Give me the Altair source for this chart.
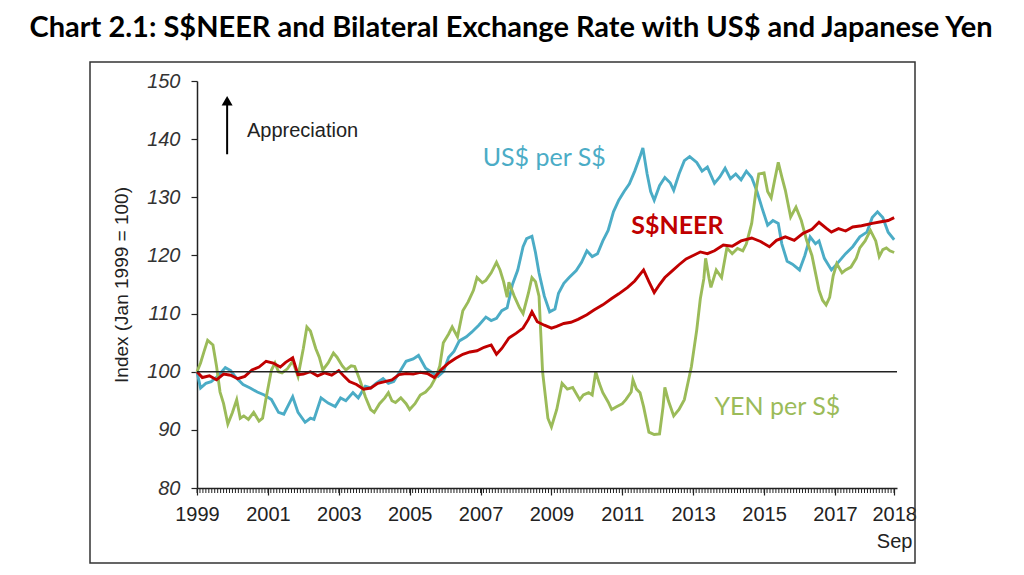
import altair as alt
import pandas as pd

# ---------------- data ----------------
neer_t = [1999.0,1999.15,1999.35,1999.55,1999.75,1999.95,2000.15,2000.35,2000.55,2000.75,2000.95,2001.15,2001.35,2001.5,2001.7,2001.85,
          2002.0,2002.2,2002.4,2002.6,2002.8,2003.0,2003.15,2003.3,2003.5,2003.7,2003.9,2004.1,2004.3,2004.5,2004.7,2004.9,2005.1,2005.3,
          2005.5,2005.7,2005.9,2006.1,2006.3,2006.5,2006.7,2006.9,2007.1,2007.3,2007.45,2007.6,2007.8,2008.0,2008.2,2008.35,2008.45,
          2008.6,2008.8,2009.0,2009.15,2009.35,2009.55,2009.75,2010.0,2010.2,2010.45,2010.7,2010.9,2011.15,2011.35,2011.6,2011.75,
          2011.9,2012.05,2012.2,2012.4,2012.6,2012.8,2013.0,2013.2,2013.4,2013.6,2013.85,2014.1,2014.35,2014.65,2014.9,2015.15,
          2015.35,2015.6,2015.85,2016.1,2016.35,2016.55,2016.75,2016.9,2017.1,2017.3,2017.5,2017.75,2018.05,2018.3,2018.5,2018.67]
neer_v = [100,99.0,99.3,98.6,99.6,99.4,98.8,99.2,100.3,100.8,101.8,101.5,100.8,101.6,102.4,99.5,
          99.6,100.0,99.3,99.8,99.4,100.2,99.2,98.3,97.8,97.0,97.2,98.0,98.3,98.6,99.5,99.7,99.6,99.9,
          99.7,99.0,100.4,101.5,102.3,103.0,103.4,103.6,104.2,104.6,103.0,104.0,105.8,106.6,107.5,109.0,110.3,
          108.6,108.0,107.5,107.8,108.3,108.5,109.0,109.8,110.6,111.5,112.6,113.4,114.5,115.6,117.5,115.5,
          113.6,115.0,116.2,117.3,118.4,119.4,120.0,120.6,120.3,120.8,121.8,121.6,122.5,123.0,122.4,121.5,
          122.6,123.2,122.6,123.8,124.5,125.7,124.7,124.0,124.6,124.2,124.9,125.1,125.5,125.8,126.0,126.5]

usd_t = [1999.0,1999.1,1999.25,1999.4,1999.6,1999.8,1999.95,2000.1,2000.3,2000.5,2000.7,2000.9,2001.1,2001.3,2001.45,2001.6,2001.7,
         2001.85,2002.05,2002.2,2002.3,2002.5,2002.7,2002.9,2003.05,2003.2,2003.4,2003.55,2003.75,2003.9,2004.05,2004.25,2004.4,
         2004.55,2004.75,2004.9,2005.1,2005.25,2005.45,2005.6,2005.8,2005.95,2006.1,2006.25,2006.4,2006.6,2006.75,2006.95,2007.15,
         2007.3,2007.45,2007.6,2007.75,2007.9,2008.05,2008.2,2008.3,2008.45,2008.55,2008.65,2008.8,2008.95,2009.1,2009.2,2009.35,
         2009.5,2009.7,2009.85,2010.0,2010.15,2010.3,2010.45,2010.6,2010.75,2010.9,2011.05,2011.2,2011.35,2011.5,2011.58,2011.7,
         2011.8,2011.9,2012.05,2012.2,2012.35,2012.45,2012.6,2012.75,2012.9,2013.1,2013.25,2013.4,2013.6,2013.75,2013.9,2014.05,
         2014.2,2014.35,2014.5,2014.65,2014.8,2014.95,2015.1,2015.25,2015.4,2015.5,2015.65,2015.8,2016.0,2016.15,2016.3,2016.45,
         2016.55,2016.7,2016.9,2017.05,2017.3,2017.5,2017.7,2017.9,2018.05,2018.2,2018.35,2018.5,2018.67]
usd_v = [100,97.2,98.0,98.3,99.3,100.7,100.2,99.0,97.8,97.2,96.5,96.0,95.2,93.0,92.7,94.5,95.7,
         93.0,91.3,92.0,91.8,95.5,94.6,94.0,95.5,95.0,96.4,95.5,97.5,97.2,98.0,98.8,98.0,
         98.3,100.3,101.8,102.2,102.8,100.6,100.0,99.2,100.0,102.5,103.5,105.3,106.0,106.8,108.0,109.4,
         108.8,109.2,110.5,111.0,115.0,117.5,121.5,122.9,123.3,120.5,117.0,113.0,110.3,110.8,113.5,115.2,
         116.2,117.4,118.8,120.8,119.8,120.3,122.5,124.3,127.5,129.5,131.0,132.3,134.5,137.0,138.5,134.0,
         131.0,129.5,132.0,133.4,132.5,131.2,134.0,136.3,137.0,136.0,134.5,135.2,132.4,133.5,135.0,133.2,
         134.0,133.0,134.5,133.4,131.0,128.0,125.2,126.0,125.5,122.0,119.0,118.5,117.5,120.0,123.2,122.0,
         122.5,119.5,117.5,118.5,120.3,121.5,123.2,124.0,126.5,127.5,126.5,124.0,122.7]

yen_t = [1999.0,1999.1,1999.2,1999.3,1999.45,1999.55,1999.65,1999.75,1999.87,2000.0,2000.12,2000.22,2000.32,2000.45,2000.6,2000.75,
         2000.85,2000.95,2001.1,2001.2,2001.3,2001.4,2001.55,2001.7,2001.85,2002.0,2002.1,2002.2,2002.35,2002.45,2002.55,2002.7,
         2002.85,2002.95,2003.1,2003.2,2003.35,2003.45,2003.6,2003.75,2003.9,2004.0,2004.15,2004.3,2004.4,2004.5,2004.6,2004.75,
         2004.9,2005.0,2005.15,2005.3,2005.45,2005.6,2005.75,2005.85,2005.95,2006.1,2006.2,2006.35,2006.5,2006.65,2006.8,2006.9,
         2007.05,2007.15,2007.3,2007.45,2007.55,2007.65,2007.75,2007.8,2007.95,2008.1,2008.2,2008.35,2008.45,2008.55,2008.65,
         2008.75,2008.9,2009.0,2009.15,2009.3,2009.45,2009.6,2009.8,2009.9,2010.05,2010.15,2010.25,2010.35,2010.45,2010.6,2010.7,
         2010.85,2011.0,2011.1,2011.25,2011.3,2011.4,2011.5,2011.6,2011.75,2011.9,2012.05,2012.15,2012.2,2012.3,2012.45,2012.6,
         2012.75,2012.95,2013.1,2013.2,2013.3,2013.35,2013.45,2013.5,2013.65,2013.8,2013.95,2014.1,2014.25,2014.4,2014.5,2014.65,
         2014.78,2014.85,2015.0,2015.1,2015.2,2015.3,2015.4,2015.5,2015.6,2015.75,2015.9,2016.05,2016.2,2016.35,2016.45,2016.55,
         2016.65,2016.75,2016.85,2016.95,2017.05,2017.2,2017.3,2017.45,2017.6,2017.7,2017.85,2018.0,2018.15,2018.25,2018.35,
         2018.45,2018.55,2018.67]
yen_v = [100,101.5,103.5,105.4,104.6,101.0,96.5,94.5,91.0,93.0,95.2,92.0,92.4,91.8,93.0,91.5,
         92.0,95.5,100.3,101.5,100.0,99.8,100.5,101.8,99.2,104.0,107.7,107.0,104.0,102.5,100.3,101.5,
         103.2,102.5,101.0,100.3,101.0,100.9,98.5,95.7,93.5,93.0,94.5,95.5,96.4,95.0,94.7,95.5,
         94.5,93.5,94.5,96.0,96.5,97.5,99.2,101.0,105.0,106.5,107.7,106.0,110.5,112.0,114.0,116.2,
         115.3,115.7,117.0,118.8,117.5,115.5,112.8,115.4,113.0,111.0,110.0,113.5,116.2,115.5,113.0,
         100.0,92.0,90.5,93.5,98.0,97.0,97.3,95.2,96.0,96.4,96.0,100.0,98.0,96.4,94.8,93.5,
         94.0,94.5,95.2,96.5,98.6,97.0,96.4,94.0,89.6,89.2,89.3,94.0,97.3,95.0,92.4,93.5,
         95.2,100.9,107.2,112.5,116.0,119.5,116.0,114.5,117.5,116.2,121.3,120.3,121.2,120.8,122.0,125.5,
         131.5,134.0,134.2,131.0,129.9,133.0,136.0,133.5,131.2,126.6,128.3,126.0,122.6,120.0,117.0,114.0,
         112.3,111.5,112.8,116.5,118.6,117.0,117.5,118.0,119.5,121.3,122.5,124.3,122.5,119.8,121.0,
         121.3,120.8,120.5]

series_names = ["US$ per S$", "YEN per S$", "S$NEER"]
series_colors = ["#4bacc6", "#9bbb59", "#c00000"]

year_ticks = [1999, 2001, 2003, 2005, 2007, 2009, 2011, 2013, 2015, 2017, 2018.67]
y_ticks = [80, 90, 100, 110, 120, 130, 140, 150]

title_text = "Chart 2.1: S$NEER and Bilateral Exchange Rate with US$ and Japanese Yen"

# ---------------- tables ----------------
rows = []
for name, ts, vs in [("US$ per S$", usd_t, usd_v), ("YEN per S$", yen_t, yen_v), ("S$NEER", neer_t, neer_v)]:
    for i, (t, v) in enumerate(zip(ts, vs)):
        rows.append({"series": name, "t": t, "v": v, "i": i})
df = pd.DataFrame(rows)

month_ticks = pd.DataFrame({"t": [1999 + m / 12 for m in range(0, 237)]})

W, H = 700, 407
xs = alt.Scale(domain=[1999, 2018.75], nice=False, zero=False)
ys = alt.Scale(domain=[80, 150], nice=False, zero=False)

x_axis = alt.Axis(values=year_ticks, tickSize=7, tickColor="#222", tickWidth=1.2,
                  domainColor="#222", domainWidth=1.5, grid=False, title=None, orient="bottom",
                  labelFont="Liberation Sans", labelFontSize=20, labelColor="#222",
                  labelPadding=9, labelLineHeight=27, labelFlush=False, labelOverlap=False,
                  labelExpr="datum.value > 2018 ? ['2018', '     Sep'] : format(datum.value, 'd')")
y_axis = alt.Axis(values=y_ticks, tickSize=6, tickColor="#222", tickWidth=1.2,
                  domainColor="#222", domainWidth=1.5, grid=False,
                  title="Index  (Jan 1999 = 100)", titleFont="Liberation Sans", titleFontSize=19,
                  titleFontWeight="normal", titleColor="#222", titlePadding=15,
                  labelFont="Liberation Sans", labelFontSize=20, labelFontStyle="italic",
                  labelColor="#333", labelPadding=11)

lines = alt.Chart(df).mark_line(strokeWidth=2.9, interpolate="linear").encode(
    x=alt.X("t:Q", scale=xs, axis=x_axis),
    y=alt.Y("v:Q", scale=ys, axis=y_axis),
    color=alt.Color("series:N", scale=alt.Scale(domain=series_names, range=series_colors), legend=None),
    order="i:Q",
)

# minor monthly ticks below the x axis
minor = alt.Chart(month_ticks).mark_rule(color="#222", strokeWidth=1).encode(
    x=alt.X("t:Q", scale=xs), y=alt.value(H), y2=alt.value(H + 5))

ref = alt.Chart(pd.DataFrame({"y": [100]})).mark_rule(color="#222", strokeWidth=1.6).encode(
    y=alt.Y("y:Q", scale=ys)
)

# arrow "Appreciation"
arrow_shaft = alt.Chart(pd.DataFrame({"t": [1999.85], "y1": [137.4], "y2": [146.0]})).mark_rule(
    color="black", strokeWidth=2).encode(x=alt.X("t:Q", scale=xs), y=alt.Y("y1:Q", scale=ys), y2="y2:Q")
arrow_head = alt.Chart(pd.DataFrame({"t": [1999.85], "y": [146.6]})).mark_point(
    shape="triangle-up", filled=True, color="black", size=120, opacity=1).encode(
    x=alt.X("t:Q", scale=xs), y=alt.Y("y:Q", scale=ys))

labels_df = pd.DataFrame({
    "t": [2000.41, 2007.06, 2011.25, 2013.6],
    "y": [141.4, 136.8, 125.1, 94.0],
    "txt": ["Appreciation", "US$ per S$", "S$NEER", "YEN per S$"],
    "col": ["#222222", "#4bacc6", "#c00000", "#9bbb59"],
    "fs": [20, 25, 25, 25],
    "fw": ["normal", "normal", "bold", "normal"],
    "font": ["Liberation Sans", "Lato", "Lato", "Lato"],
})

def lab(i):
    r = labels_df.iloc[[i]]
    return alt.Chart(r).mark_text(align="left", baseline="middle", font=r["font"].iloc[0],
                                  fontSize=int(r["fs"].iloc[0]), fontWeight=r["fw"].iloc[0],
                                  color=r["col"].iloc[0]).encode(
        x=alt.X("t:Q", scale=xs), y=alt.Y("y:Q", scale=ys), text="txt:N")

texts = [lab(i) for i in range(len(labels_df))]

frame = alt.Chart(pd.DataFrame({"a": [0]})).mark_rect(filled=False, stroke="#333", strokeWidth=1.5).encode(
    x=alt.value(-107), x2=alt.value(718), y=alt.value(-19), y2=alt.value(482))

title = alt.Chart(pd.DataFrame({"txt": [title_text]})).mark_text(
    font="Lato", fontSize=29, fontWeight="bold", color="black", align="center", baseline="middle").encode(
    x=alt.value(314), y=alt.value(-53), text="txt:N")

chart = alt.layer(lines, minor, ref, arrow_shaft, arrow_head, *texts, frame, title).properties(
    width=W, height=H,
    autosize=alt.AutoSizeParams(type="none"),
    padding={"left": 197, "top": 81, "right": 127, "bottom": 87},
    background="white",
).configure_view(stroke=None)

chart.save("out.html", embed_options={"renderer": "svg", "actions": False})
